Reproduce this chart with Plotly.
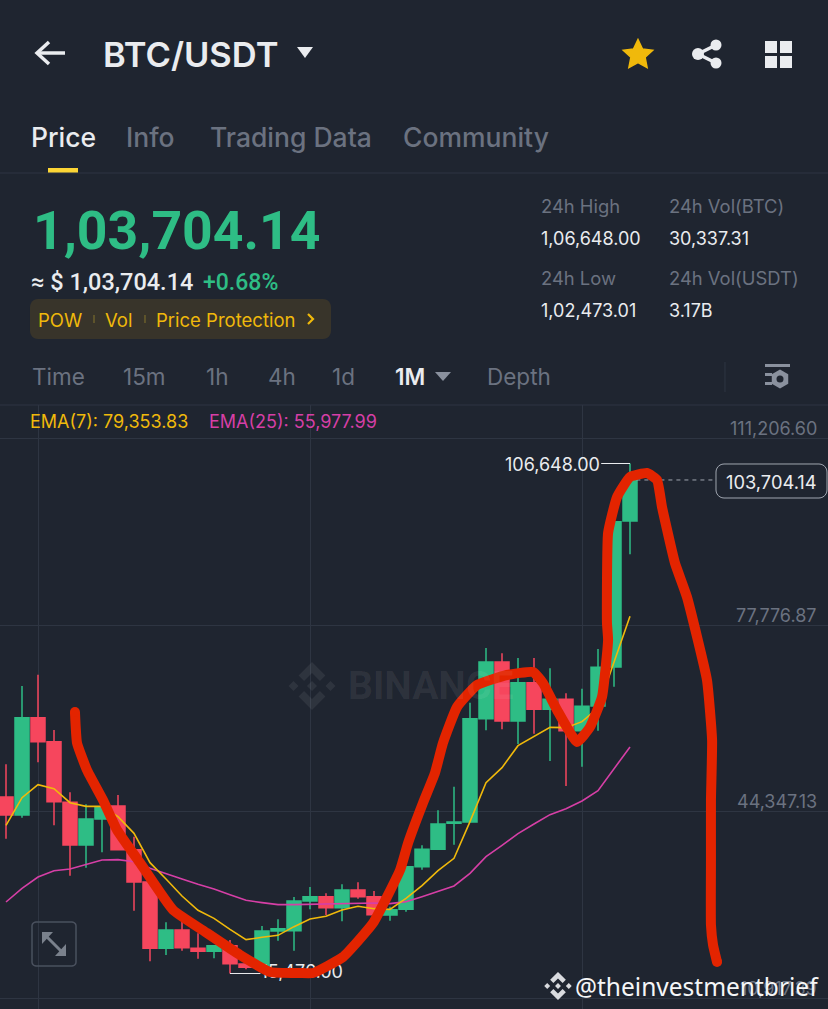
import math
import plotly.graph_objects as go

W, H = 828, 1009
BG = '#1F2530'
GREEN = '#2EBD85'
RED = '#F6465D'
YELLOW = '#F0B90B'
PINK = '#D63FA6'
GRAY = '#6B7280'
WHITE = '#EAECEF'
GRID = '#2E3542'
STROKE = '#E32400'
FONT = 'Inter'

# monthly candles
candle_idx = list(range(40))
opens = [47028, 43810, 61211, 56920, 46075, 38447, 43095, 45419, 37613, 31833,
         19974, 23252, 19974, 19438, 20451, 17174, 16399, 23073, 23133, 28436,
         29211, 27244, 30402, 29211, 25933, 26946, 34574, 37672, 42320, 42559,
         61032, 71162, 60615, 67467, 62700, 64488, 58887, 63296, 70268, 96369]
highs = [52868, 66872, 68898, 59006, 47862, 45717, 45598, 47386, 39937, 31833,
         24622, 24920, 22656, 20451, 21464, 17889, 23967, 25159, 29151, 30939,
         29807, 31416, 31773, 30224, 27423, 34574, 38388, 44645, 48875, 63892,
         73665, 72711, 71877, 71877, 70030, 65561, 66395, 73486, 97000, 106648.00]
lows = [39579, 43334, 53225, 41963, 32965, 34395, 37136, 37613, 26708, 17650,
        18782, 19557, 18127, 18187, 15476.00, 16220, 16399, 21345, 19557, 26946,
        25933, 24801, 28853, 25874, 24920, 26529, 34037, 37672, 38507, 42559,
        58946, 59125, 56503, 58350, 53464, 48995, 52451, 58887, 66752, 90410]
closes = [43810, 61211, 56920, 46194, 38447, 43095, 45300, 37613, 31833, 19974,
          23252, 20093, 19438, 20451, 17233, 16578, 23073, 23490, 28436, 29211,
          27244, 30402, 29211, 25993, 26887, 34574, 37672, 42201, 42559, 61032,
          71162, 60615, 67467, 62700, 64488, 58887, 63237, 70209, 96249, 103704.14]

ema7 = [41963, 46909, 49233, 48518, 46015, 45360, 45360, 43512, 40533, 35289,
        32369, 29330, 26768, 25337, 23371, 21524, 21941, 22298, 23848, 25218,
        25695, 26827, 27483, 27065, 26946, 28913, 31177, 33859, 36064, 42618,
        49590, 52272, 56205, 57814, 59482, 59423, 60495, 62939, 70983, 79353.83]
ema25 = [28257, 30700, 32727, 33859, 34157, 34931, 35766, 35825, 35468, 34276,
         33382, 32369, 31416, 30581, 29568, 28555, 28138, 27781, 27781, 27840,
         27959, 28078, 28138, 28078, 27959, 28317, 29211, 30105, 31118, 33382,
         36361, 38388, 40473, 42201, 43870, 44942, 46313, 48160, 52153, 55977.99]

# the red line somebody drew over the chart
drawn_x = [4.31, 4.44, 5.06, 6.06, 6.94, 8.38, 10.44, 12.56, 14.63, 16.5, 18.38,
           19.19, 21.06, 22.94, 24.63, 25.13, 26.06, 26.81, 27.31, 28.19, 29.44,
           31.31, 32.94, 33.56, 34.44, 35.69, 36.5, 37.25, 37.63, 37.56, 37.63,
           38.19, 39.0, 40.06, 40.69, 41.0, 41.81, 42.56, 43.81, 44.13, 44.06,
           44.06, 44.06, 44.19, 44.44]
drawn_y = [62224, 56682, 51855, 46492, 41129, 35230, 26828, 22715, 18783, 15742,
           15565, 15565, 18425, 24503, 33978, 38805, 45956, 51319, 56682, 63118,
           67051, 68838, 69375, 67408, 62581, 56861, 59542, 64906, 75095, 78135,
           94224, 100660, 104235, 104950, 103699, 98872, 88861, 82782, 67945,
           57218, 46492, 35766, 24146, 20570, 17530]

price_ticks = [111206.60, 77776.87, 44347.13, 10917.39]
price_labels = ['111,206.60', '77,776.87', '44,347.13', '10,917.39']
time_ticks = [2, 19, 36]
last_price = 103704.14
high_label = '106,648.00'
low_label = '15,476.00'


def fx(x):
    return x / W


def fy(y):
    return 1 - y / H


def label(text, x, y, size, color, anchor='left', weight=400, family=FONT):
    # annotations carry about 2px of padding on the left
    if anchor == 'left':
        x -= 2
    annotations.append(dict(text=text, x=fx(x), y=fy(y), xref='paper', yref='paper',
                            xanchor=anchor, yanchor='middle', showarrow=False,
                            font=dict(size=size, color=color, family=family, weight=weight)))


def poly(points, fill=None, line=None, width=0, closed=True):
    path = 'M ' + ' L '.join('%.5f %.5f' % (fx(x), fy(y)) for x, y in points)
    if closed:
        path += ' Z'
    shapes.append(dict(type='path', path=path, xref='paper', yref='paper',
                       fillcolor=fill if fill else 'rgba(0,0,0,0)',
                       line=dict(color=line if line else 'rgba(0,0,0,0)', width=width)))


def round_rect(x0, y0, x1, y1, r, fill=None, line=None, width=0):
    pts = []
    corners = [(x1 - r, y0 + r, -90), (x1 - r, y1 - r, 0), (x0 + r, y1 - r, 90), (x0 + r, y0 + r, 180)]
    for cx, cy, start in corners:
        for k in range(7):
            a = math.radians(start + k * 15)
            pts.append((cx + r * math.cos(a), cy + r * math.sin(a)))
    poly(pts, fill, line, width)


def circle(cx, cy, r, fill):
    shapes.append(dict(type='circle', xref='paper', yref='paper', fillcolor=fill,
                       x0=fx(cx - r), x1=fx(cx + r), y0=fy(cy + r), y1=fy(cy - r),
                       line=dict(width=0)))


def logo(cx, cy, s, color):
    top = [(0, -1), (.56, -.44), (.33, -.21), (0, -.54), (-.33, -.21), (-.56, -.44)]
    poly([(cx + a * s, cy + b * s) for a, b in top], color)
    poly([(cx + a * s, cy - b * s) for a, b in top], color)
    for dx in (-.77, 0, .77):
        poly([(cx + (dx + a) * s, cy + b * s) for a, b in [(0, -.21), (.21, 0), (0, .21), (-.21, 0)]], color)


annotations = []
shapes = []

fig = go.Figure()
fig.add_trace(go.Candlestick(x=candle_idx, open=opens, high=highs, low=lows, close=closes,
                             increasing=dict(line=dict(color=GREEN, width=1.5), fillcolor=GREEN),
                             decreasing=dict(line=dict(color=RED, width=1.5), fillcolor=RED),
                             whiskerwidth=0, hoverinfo='skip'))
fig.add_trace(go.Scatter(x=candle_idx, y=ema25, mode='lines', line=dict(color=PINK, width=1.6), hoverinfo='skip'))
fig.add_trace(go.Scatter(x=candle_idx, y=ema7, mode='lines', line=dict(color=YELLOW, width=1.6), hoverinfo='skip'))

# high / low / last price leaders
fig.add_trace(go.Scatter(x=[37.2, 39], y=[max(highs)] * 2, mode='lines', line=dict(color=WHITE, width=1), hoverinfo='skip'))
fig.add_trace(go.Scatter(x=[14, 15.9], y=[min(lows)] * 2, mode='lines', line=dict(color=WHITE, width=1), hoverinfo='skip'))
fig.add_trace(go.Scatter(x=[39.4, 44.3], y=[last_price] * 2, mode='lines',
                         line=dict(color='#A0A6B0', width=1, dash='4px,4px'), hoverinfo='skip'))
fig.add_trace(go.Scatter(x=[15.9], y=[min(lows)], mode='text', text=[low_label], textposition='middle right',
                         textfont=dict(color=WHITE, size=18, family=FONT), hoverinfo='skip'))
fig.add_trace(go.Scatter(x=drawn_x, y=drawn_y, mode='lines', line=dict(color=STROKE, width=10, shape='spline', smoothing=0.4), hoverinfo='skip'))
fig.add_trace(go.Scatter(x=[drawn_x[0], drawn_x[-1]], y=[drawn_y[0], drawn_y[-1]], mode='markers',
                         marker=dict(color=STROKE, size=10), hoverinfo='skip'))

# header
poly([(49, 42), (37, 53), (49, 64)], None, WHITE, 3.5, closed=False)
poly([(37, 53), (65, 53)], None, WHITE, 3.5, closed=False)
label('BTC/USDT', 103, 54, 34.5, WHITE, weight=600)
poly([(297, 47), (313, 47), (305, 58)], WHITE)
star = []
for k in range(10):
    r = 15.5 if k % 2 == 0 else 7.5
    a = math.radians(-90 + k * 36)
    star.append((638 + r * math.cos(a), 55 + r * math.sin(a)))
poly(star, YELLOW, YELLOW, 1.5)
poly([(716, 45), (698, 54), (716, 63)], None, WHITE, 3.5, closed=False)
circle(698, 54, 6, WHITE)
circle(716, 45, 5.5, WHITE)
circle(716, 63, 5.5, WHITE)
for x0 in (765, 780):
    for y0 in (41, 56):
        poly([(x0, y0), (x0 + 12, y0), (x0 + 12, y0 + 12), (x0, y0 + 12)], WHITE)

label('Price', 31, 137, 26.5, WHITE, weight=500)
label('Info', 126, 137, 26.5, GRAY, weight=500)
label('Trading Data', 210, 137, 26.5, GRAY, weight=500)
label('Community', 403, 137, 26.5, GRAY, weight=500)
poly([(48, 168), (78, 168), (78, 173), (48, 173)], '#FCD535')
poly([(0, 173), (W, 173)], None, GRID, 1, closed=False)

label('1,03,704.14', 33, 230, 53.5, GREEN, weight=700, family='Roboto')
label('≈ $ 1,03,704.14', 31, 282, 23.5, WHITE, weight=500, family='Roboto')
label('+0.68%', 203, 282, 23, GREEN, weight=500, family='Roboto')

round_rect(30, 299, 331, 339, 8, '#38342A')
label('POW', 38, 320, 18.5, YELLOW)
poly([(94, 315), (94, 323)], None, '#6B5F2C', 1.5, closed=False)
label('Vol', 105, 320, 18.5, YELLOW)
poly([(145, 315), (145, 323)], None, '#6B5F2C', 1.5, closed=False)
label('Price Protection', 156, 320, 18.5, YELLOW)
poly([(308, 314), (313, 319), (308, 324)], None, YELLOW, 2.2, closed=False)

label('24h High', 541, 206, 18.4, GRAY)
label('24h Vol(BTC)', 669, 206, 18.4, GRAY)
label('1,06,648.00', 541, 238, 18, WHITE)
label('30,337.31', 669, 238, 18, WHITE)
label('24h Low', 541, 278, 18.4, GRAY)
label('24h Vol(USDT)', 669, 278, 18.4, GRAY)
label('1,02,473.01', 541, 310, 18, WHITE)
label('3.17B', 669, 310, 18, WHITE)

label('Time', 32, 377, 22.5, GRAY)
label('15m', 123, 377, 22.5, GRAY)
label('1h', 206, 377, 22.5, GRAY)
label('4h', 268, 377, 22.5, GRAY)
label('1d', 332, 377, 22.5, GRAY)
label('1M', 395, 377, 22.5, WHITE, weight=600)
poly([(435, 372), (451, 372), (443, 381)], '#8A919E')
label('Depth', 487, 377, 22.5, GRAY)
poly([(725, 362), (725, 392)], None, GRID, 1, closed=False)
poly([(765, 364), (790, 364), (790, 367), (765, 367)], '#8A919E')
poly([(765, 373), (772, 373), (772, 376), (765, 376)], '#8A919E')
poly([(765, 382), (772, 382), (772, 385), (765, 385)], '#8A919E')
hexa = [(780 + 9.5 * math.sin(math.radians(60 * k)), 379 + 9.5 * math.cos(math.radians(60 * k))) for k in range(6)]
poly(hexa, '#8A919E')
circle(780, 379, 3.5, BG)
poly([(0, 405), (W, 405)], None, GRID, 1, closed=False)

label('EMA(7): 79,353.83', 30, 421, 18, YELLOW)
label('EMA(25): 55,977.99', 209, 421, 18, PINK)

# price axis labels sit just above their grid lines
for val, txt in zip(price_ticks, price_labels):
    annotations.append(dict(text=txt, x=fx(819), y=val, xref='paper', yref='y', yshift=10,
                            xanchor='right', yanchor='middle', showarrow=False,
                            font=dict(size=18, color=GRAY, family=FONT)))

# watermark
logo(312, 686, 24, 'rgba(255,255,255,0.07)')
label('BINANCE', 348, 686, 39, 'rgba(255,255,255,0.07)', weight=700, family='Roboto')

# value tags
annotations.append(dict(text=high_label, x=37.1, y=max(highs), xref='x', yref='y', xanchor='right', yanchor='middle',
                        xshift=2, yshift=-1, showarrow=False, font=dict(size=18, color=WHITE, family=FONT)))
round_rect(716, 464, 827, 498, 8, BG, '#A0A6B0', 1)
label('103,704.14', 771.5, 481.5, 18.3, WHITE, anchor='center')

# expand button
round_rect(32, 922, 76, 966, 4, None, '#4A515E', 1.5)
poly([(46, 936), (62, 952)], None, '#7A818C', 3, closed=False)
poly([(42, 932), (53, 932), (42, 944)], '#7A818C')
poly([(66, 956), (55, 956), (66, 944)], '#7A818C')

logo(558, 986, 14, '#D9DBDF')
label('@theinvestmentbrief', 575, 986, 24.5, '#F5F6F7', family='Noto Sans')

fig.update_layout(
    width=W, height=H, margin=dict(l=0, r=0, t=0, b=0),
    paper_bgcolor=BG, plot_bgcolor=BG, showlegend=False, boxgap=0.125, boxgroupgap=0,
    annotations=annotations, shapes=shapes,
    xaxis=dict(range=[-0.375, 51.375], domain=[0, 1], tickvals=time_ticks, showticklabels=False,
               showgrid=True, gridcolor=GRID, gridwidth=1, zeroline=False, showline=False,
               rangeslider=dict(visible=False), fixedrange=True),
    yaxis=dict(range=[9128, 117106], domain=[0, 604 / 1009], tickvals=price_ticks, showticklabels=False,
               showgrid=True, gridcolor=GRID, gridwidth=1, zeroline=False, showline=False, fixedrange=True),
)

# the page's default body margin would shift the whole figure by 8px
fig.write_html("out.html", config=dict(displayModeBar=False),
               post_script="document.body.style.margin='0';document.body.style.background='%s';" % BG)
